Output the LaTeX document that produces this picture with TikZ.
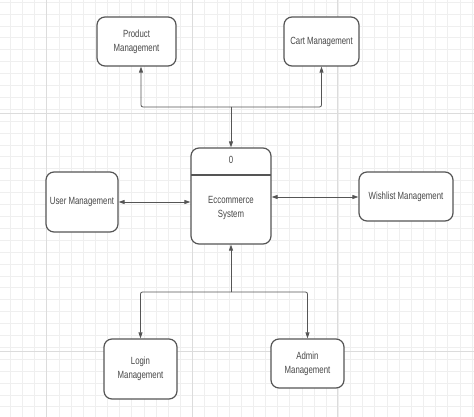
\documentclass[tikz,border=0pt]{standalone}
\usepackage{fontspec}
\setmainfont[FakeStretch=0.75]{Liberation Sans}
\usetikzlibrary{arrows.meta}
\definecolor{edge}{HTML}{555555}
\definecolor{gridminor}{HTML}{EFEFEF}
\definecolor{gridmajor}{HTML}{DCDCDC}
\tikzset{
  px/.style={x=1pt,y=-1pt},
  lbl/.style={font=\fontsize{10.4}{14}\selectfont, text=black!72, align=center},
  box/.style={draw=edge, line width=1.2pt, rounded corners=8pt, fill=white, lbl, inner sep=0pt},
  tip/.style={-{Triangle[length=6pt,width=4pt]}},
  conn/.style={draw=edge, line width=0.8pt, tip},
  conn2/.style={draw=edge, line width=0.8pt, {Triangle[length=6pt,width=4pt]}-{Triangle[length=6pt,width=4pt]}},
}
\begin{document}
\begin{tikzpicture}[px]
\useasboundingbox (0,0) rectangle (474,417);
\fill[white] (0,0) rectangle (474,417);
% grid
\foreach \i in {0,...,40} {
  \draw[gridminor, line width=0.4pt] ({\i*12.15-2},0) -- ({\i*12.15-2},417);
}
\foreach \j in {0,...,35} {
  \draw[gridminor, line width=0.4pt] (0,{\j*11.9+2}) -- (474,{\j*11.9+2});
}
\foreach \xx in {46,192,337} \draw[gridmajor, line width=0.5pt] (\xx,0) -- (\xx,417);
\foreach \yy in {113,351} \draw[gridmajor, line width=0.5pt] (0,\yy) -- (474,\yy);

% nodes
\node[box, minimum width=79pt, minimum height=49pt] (prod) at (136.5,41.5) {Product\\Management};
\node[box, minimum width=75pt, minimum height=49pt] (cart) at (321.5,41.5) {Cart Management};
\node[box, minimum width=80pt, minimum height=96pt] (sys) at (231,196) {};
\coordinate (divl) at (191,175);
\coordinate (divr) at (271,175);
\draw[edge, line width=1.1pt] (divl) -- (divr);
\node[lbl] (zero) at (231,160) {0};
\node[lbl] (systxt) at (231,208) {Eccommerce\\System};
\node[box, minimum width=72pt, minimum height=60pt] (user) at (82,202) {User Management};
\node[box, minimum width=94pt, minimum height=49pt] (wish) at (406,196.5) {Wishlist Management};
\node[box, minimum width=73pt, minimum height=60pt] (login) at (140.5,369) {Login\\Management};
\node[box, minimum width=73pt, minimum height=49pt] (admin) at (307.5,363.5) {Admin\\Management};

% top connectors
\coordinate (jt) at (231,107);
\draw[conn] (jt) -- (sys.north);
\draw[conn, rounded corners=2pt] (jt) -| (prod.south -| 141,0);
\draw[conn, rounded corners=2pt] (jt) -| (cart.south);
% bottom connectors
\coordinate (jb) at (231,292);
\draw[conn] (jb) -- (sys.south);
\draw[conn, rounded corners=2pt] (jb) -| (login.north);
\draw[conn, rounded corners=2pt] (jb) -| (admin.north);
% side connectors
\draw[conn2] (user.east |- 0,202) -- (sys.west |- 0,202);
\draw[conn2] (sys.east |- 0,197) -- (wish.west |- 0,197);
\end{tikzpicture}
\end{document}
